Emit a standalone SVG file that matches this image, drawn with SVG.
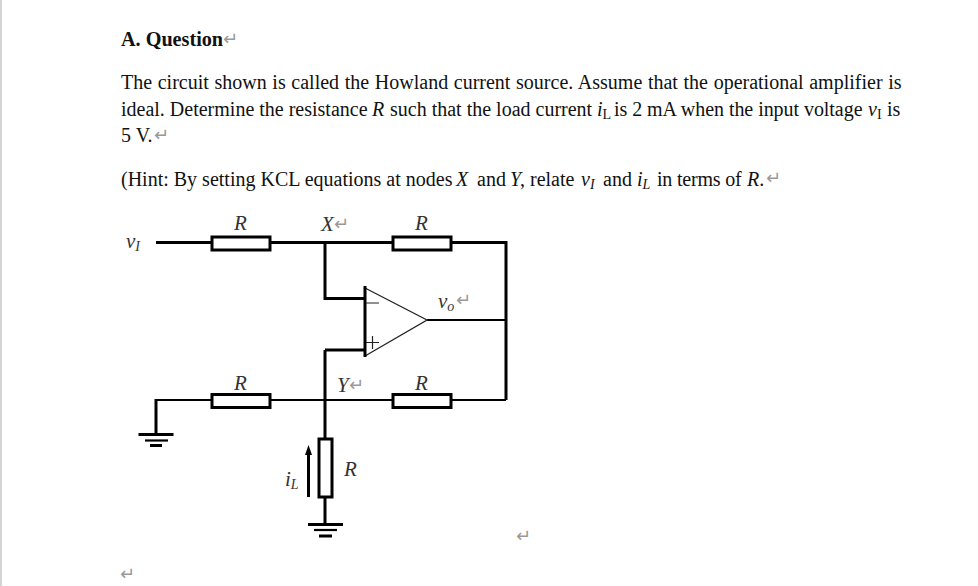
<svg xmlns="http://www.w3.org/2000/svg" width="978" height="586" viewBox="0 0 978 586">
<style>
text{font-family:"Liberation Serif","Times New Roman",serif;fill:#111}
.t{font-size:20px}
.b{font-weight:bold}
.i{font-style:italic}
.sub{font-size:14px}
.lab{font-size:21px;font-style:italic;fill:#333}
.ret{font-family:"DejaVu Sans",sans-serif;font-size:18px;fill:#999}
.w{fill:none;stroke:#000;stroke-width:3}
.tw{fill:none;stroke:#000;stroke-width:2.2}
.r{fill:#fff;stroke:#000;stroke-width:3}
.thin{fill:none;stroke:#222;stroke-width:1.2}
</style>
<rect width="978" height="586" fill="#fff"/>
<rect x="0" y="0" width="2" height="586" fill="#d4d4d4"/>

<g id="document-text">
<text class="t b" x="121" y="46" style="font-size:20.200px">A. Question</text>
<text class="ret" x="223" y="45">↵</text>
<text class="t" x="121" y="89" word-spacing="0.650">The circuit shown is called the Howland current source. Assume that the operational amplifier is</text>
<text class="t" x="121" y="116">ideal. Determine the resistance <tspan class="i" x="372">R</tspan><tspan x="390">such that the load current</tspan><tspan class="i" x="597">i</tspan><tspan class="sub" dy="3">L</tspan><tspan dy="-3" x="614" letter-spacing="-0.050">is 2 mA when the input voltage</tspan><tspan class="i" x="868">v</tspan><tspan class="sub" dy="3">I</tspan><tspan dy="-3" x="887">is</tspan></text>
<text class="t" x="121" y="142">5 V.</text>
<text class="ret" x="154" y="141">↵</text>
<text class="t" x="121" y="186">(Hint: By setting KCL equations at nodes <tspan class="i" x="456">X</tspan><tspan x="477">and</tspan><tspan class="i" x="510">Y</tspan><tspan x="520">, relate</tspan><tspan class="i" x="581">v</tspan><tspan class="i sub" dy="3">I</tspan><tspan dy="-3" x="603">and</tspan><tspan class="i" x="637">i</tspan><tspan class="i sub" dy="3">L</tspan><tspan dy="-3" x="657" letter-spacing="-0.200">in terms of</tspan><tspan class="i" x="747">R</tspan>.</text>
<text class="ret" x="766" y="184">↵</text>
<text class="ret" x="516" y="542">↵</text>
<text class="ret" x="120" y="580">↵</text>
</g>

<g id="connectors">
<path class="w" d="M156 242.500H211M271 242.500H392M452 242.500H506V400M325 242.500V298.500H365M325 350H365M325 350V438"/>
<path class="tw" d="M427 320H506M156 400H211M271 400H392M452 400H506"/>
<path class="w" d="M325 498V524M156 399V434"/>
</g>

<g id="R1"><rect class="r" x="212" y="237" width="58" height="13"/><text class="lab" x="234" y="230">R</text></g>
<g id="R2"><rect class="r" x="393" y="237" width="58" height="13"/><text class="lab" x="415" y="230">R</text></g>
<g id="R3"><rect class="r" x="212" y="394.500" width="58" height="13"/><text class="lab" x="234" y="390">R</text></g>
<g id="R4"><rect class="r" x="393" y="394.500" width="58" height="13"/><text class="lab" x="415" y="390">R</text></g>
<g id="R5"><rect class="r" x="319" y="439" width="13" height="58"/><text class="lab" x="344" y="476">R</text></g>

<g id="opamp">
<path d="M365 288L427 320L365 356" fill="none" stroke="#222" stroke-width="1.300"/>
<path d="M365 286V357" fill="none" stroke="#000" stroke-width="3"/>
<path class="thin" d="M366 303H379M366 342.500H379M372.500 336V349"/>
</g>

<g id="ground-left">
<path class="w" d="M138.500 434.500H173.500"/>
<path class="tw" d="M145 440.500H168"/>
<path class="w" d="M150 445.500H162"/>
</g>
<g id="ground-bottom">
<path class="w" d="M308 524.500H343"/>
<path class="tw" d="M314 530H337"/>
<path class="w" d="M319 536H332"/>
</g>

<g id="current-arrow">
<path class="w" d="M308.500 497V451"/>
<path d="M305 455L308.500 445L312 455Z" fill="#000"/>
<text class="lab" x="285" y="486">i<tspan class="sub" dy="3">L</tspan></text>
</g>

<g id="labels">
<text class="lab" x="126" y="248">v<tspan class="sub" dy="3">I</tspan></text>
<text class="lab" x="321" y="231">X</text>
<text class="ret" x="334" y="230">↵</text>
<text class="lab" x="337" y="392">Y</text>
<text class="ret" x="349" y="391">↵</text>
<text class="lab" x="438" y="308">v<tspan class="sub" dy="3">o</tspan></text>
<text class="ret" x="456" y="306">↵</text>
</g>
</svg>
